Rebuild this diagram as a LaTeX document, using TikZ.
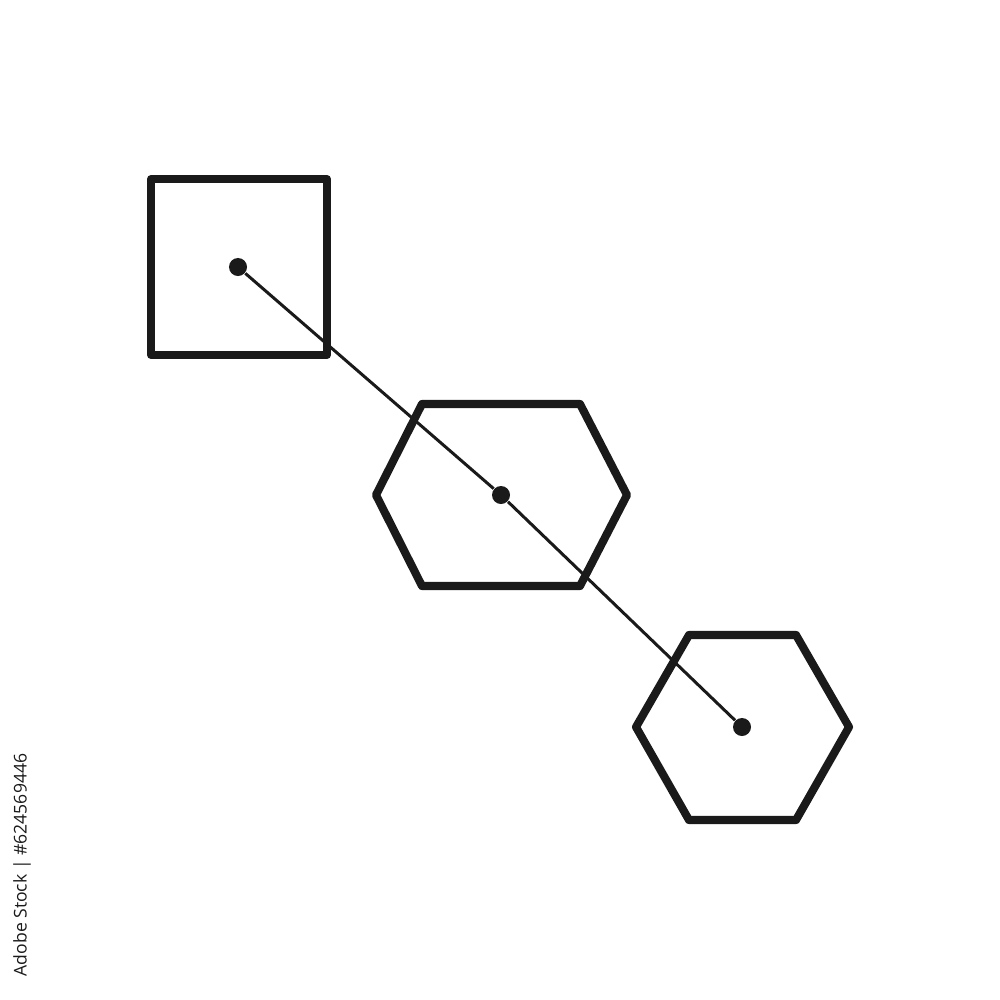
\documentclass[tikz,border=0pt]{standalone}
\usepackage{fontspec}
\newfontfamily\stockfont{Open Sans}
\usepackage{tikz}
\usetikzlibrary{calc}
\definecolor{inkblack}{HTML}{1A1A1A}
\tikzset{
% Thick outlines for the shapes, thin line and dots for the axis
frame line/.style={draw=inkblack,line width=2.3pt,line join=round},
axis line/.style={draw=inkblack,line width=0.85pt},
axis dot/.style={circle,fill=inkblack,inner sep=0,minimum size=0.18cm}
}

\begin{document}
\begin{tikzpicture}[x=0.01cm,y=-0.01cm]
\useasboundingbox (0,0) rectangle (1000,1000);
% Centres of the three shapes
\node(sq)[axis dot] at (238,267){};
\node(hexwide)[axis dot] at (501,495){};
\node(hexreg)[axis dot] at (742,727){};
% The square
\draw[frame line] ($(sq)+(-87,-88)$) rectangle ($(sq)+(89,88)$);
% The wide hexagon
\draw[frame line] ($(hexwide)+(-125,0)$) -- ($(hexwide)+(-79,-91)$)
-- ($(hexwide)+(79,-91)$) -- ($(hexwide)+(126,0)$)
-- ($(hexwide)+(79,91)$) -- ($(hexwide)+(-79,91)$) -- cycle;
% The regular hexagon
\draw[frame line] ($(hexreg)+(-106,0)$) -- ($(hexreg)+(-53,-92)$)
-- ($(hexreg)+(54,-92)$) -- ($(hexreg)+(107,0)$)
-- ($(hexreg)+(54,93)$) -- ($(hexreg)+(-53,93)$) -- cycle;
% The axis through the centres
\draw[axis line] (sq) -- (hexwide) -- (hexreg);
% Stock number on the left edge
\node(stock)[rotate=90,text=inkblack,font=\stockfont\fontsize{5pt}{6pt}\selectfont,inner sep=0] at (22,865){Adobe Stock | \#624569446};
\end{tikzpicture}
\end{document}
